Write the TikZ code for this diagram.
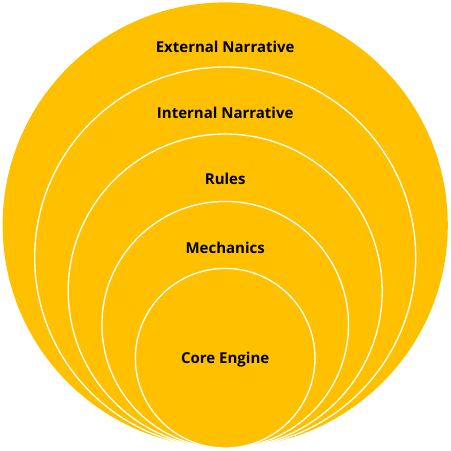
\documentclass[tikz,border=0pt]{standalone}
\usepackage{fontspec}
\setmainfont{Open Sans}
\definecolor{gold}{HTML}{FFC000}
\begin{document}
\begin{tikzpicture}[x=1pt,y=-1pt,
  ring/.style={circle,fill=gold,draw=white,line width=1.3pt,inner sep=0pt},
  lbl/.style={font=\fontsize{15}{18}\selectfont\bfseries,text=black}]
\useasboundingbox (0,0) rectangle (451,451);
\fill[gold] (225.2,225) circle[radius=222.6];
\node[ring,minimum size=381pt] (c2) at (225.2,448-190.5) {};
\node[ring,minimum size=314pt] (c3) at (225.2,448-157) {};
\node[ring,minimum size=246.6pt] (c4) at (225.2,448-123.3) {};
\node[ring,minimum size=179.6pt] (c5) at (225.2,448-89.8) {};
\node[lbl] (t1) at (225.2,46.7) {External Narrative};
\node[lbl] (t2) at (225.2,112.7) {Internal Narrative};
\node[lbl] (t3) at (225.2,179.3) {Rules};
\node[lbl] (t4) at (225.2,247.7) {Mechanics};
\node[lbl] (t5) at (225.2,359.7) {Core Engine};
\end{tikzpicture}
\end{document}
